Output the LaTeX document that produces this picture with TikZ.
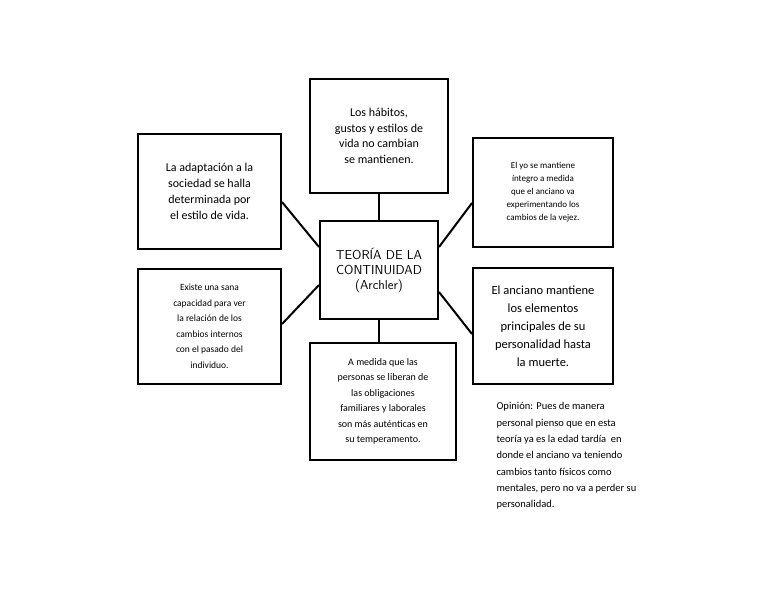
\documentclass[tikz,border=0pt]{standalone}
\usepackage{fontspec}
\setmainfont{Carlito}
\begin{document}
\begin{tikzpicture}[x=1pt,y=-1pt,
  bx/.style={draw,line width=2pt,align=center,anchor=north west,inner sep=0pt},
  ln/.style={line width=2pt}]
\useasboundingbox (0,0) rectangle (768,594);
\node[bx,minimum width=138,minimum height=114] (top) at (309,78) {};
\node[align=center,font=\fontsize{12}{15.5}\selectfont] at (top.center) {Los hábitos,\\gustos y estilos de\\vida no cambian\\se mantienen.};
\node[bx,minimum width=143,minimum height=115] (lt) at (137,133) {};
\node[align=center,font=\fontsize{12}{16}\selectfont] at (lt.center) {La adaptación a la\\sociedad se halla\\determinada por\\el estilo de vida.};
\node[bx,minimum width=118,minimum height=98] (c) at (319,220) {};
\node[align=center,font=\fontsize{13}{15}\selectfont\sffamily] at (c.center) {TEORÍA DE LA\\CONTINUIDAD\\(Archler)};
\node[bx,minimum width=140,minimum height=109] (rt) at (472,137) {};
\node[align=center,font=\fontsize{9}{13}\selectfont] at (rt.center) {El yo se mantiene\\íntegro a medida\\que el anciano va\\experimentando los\\cambios de la vejez.};
\node[bx,minimum width=143,minimum height=115] (lb) at (137,268) {};
\node[align=center,font=\fontsize{9.5}{15.5}\selectfont] at (lb.center) {Existe una sana\\capacidad para ver\\la relación de los\\cambios internos\\con el pasado del\\individuo.};
\node[bx,minimum width=140,minimum height=116] (rb) at (472,267) {};
\node[align=center,font=\fontsize{12.5}{18}\selectfont] at (rb.center) {El anciano mantiene\\los elementos\\principales de su\\personalidad hasta\\la muerte.};
\node[bx,minimum width=146,minimum height=117] (bt) at (309,342) {};
\node[align=center,font=\fontsize{10}{15.5}\selectfont] at (bt.center) {A medida que las\\personas se liberan de\\las obligaciones\\familiares y laborales\\son más auténticas en\\su temperamento.};
\draw[ln] (top.south -| c.north) -- (c.north);
\draw[ln] (c.south) -- (c.south |- bt.north);
\draw[ln] (lt.east |- 0,202) -- (c.west |- 0,247);
\draw[ln] (lb.east |- 0,324) -- (c.west |- 0,285);
\draw[ln] (c.east |- 0,247) -- (rt.west |- 0,203);
\draw[ln] (c.east |- 0,292) -- (rb.west |- 0,334);
\begin{scope}
\clip (480,395) rectangle (700,512);
\node[anchor=north west,align=left,font=\fontsize{10.5}{16.3}\selectfont] (op) at (493,399) {Opinión: Pues de manera\\personal pienso que en esta\\teoría ya es la edad tardía\ \ en\\donde el anciano va teniendo\\cambios tanto físicos como\\mentales, pero no va a perder su\\personalidad.};
\end{scope}
\end{tikzpicture}
\end{document}
